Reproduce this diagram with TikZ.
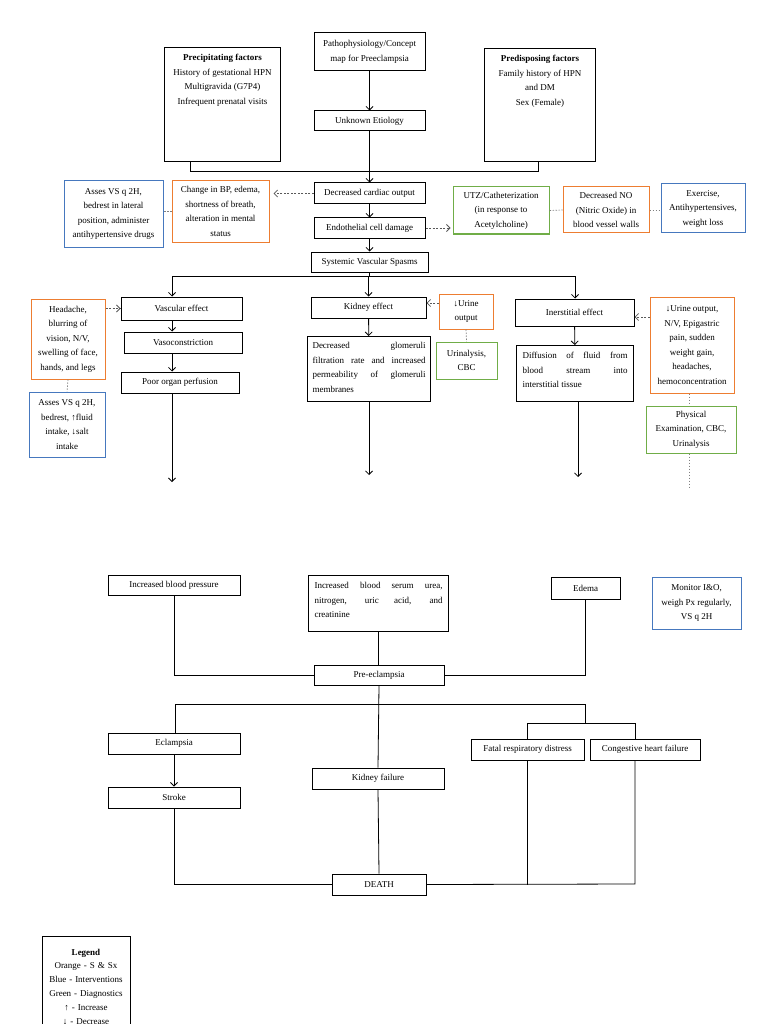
\documentclass[tikz,border=0pt]{standalone}
\usepackage{fontspec}
\setmainfont{Liberation Serif}
\usepackage{xcolor}
\usepackage{tikz}
\usetikzlibrary{arrows.meta}

\definecolor{sxorange}{RGB}{237,125,49}
\definecolor{intblue}{RGB}{70,120,190}
\definecolor{dxgreen}{RGB}{112,173,71}
\newcommand{\jl}[1]{\makebox[\linewidth][s]{#1}\\}
\newcommand{\topbox}[3]{\parbox[t][#2][t]{#1}{#3}}

\begin{document}
\begin{tikzpicture}[x=1pt,y=-1pt,
  box/.style={draw,line width=1pt,align=center,inner sep=2pt,font=\fontsize{9}{14.5}\selectfont},
  sbox/.style={box,draw=sxorange},
  ibox/.style={box,draw=intblue},
  dbox/.style={box,draw=dxgreen},
  link/.style={line width=0.8pt},
  arr/.style={link,-{Straight Barb[length=3.5pt,width=7pt]}},
  dasharr/.style={arr,gray!70!black,dash pattern=on 2pt off 1.5pt},
  dotl/.style={gray,dash pattern=on 1.5pt off 1.5pt,line width=0.7pt}]
  \useasboundingbox (0,0) rectangle (768,1024);
  \fill[white] (0,0) rectangle (768,1024);
  \clip (0,0) rectangle (768,1024);
  % causes and onset
  \node[box,minimum width=111,minimum height=38] (patho) at (369.5,52) {Pathophysiology/Concept\\map for Preeclampsia};
  \node[box,anchor=north west,inner xsep=0pt,inner ysep=7pt] (precip) at (164,47) {\topbox{116pt}{100pt}{\centering\textbf{Precipitating factors}\\History of gestational HPN\\Multigravida (G7P4)\\Infrequent prenatal visits}};
  \node[box,anchor=north west,inner xsep=0pt,inner ysep=7pt] (predisp) at (484,48) {\topbox{111pt}{99pt}{\centering\textbf{Predisposing factors}\\Family history of HPN\\and DM\\Sex (Female)}};
  \node[box,minimum width=111,minimum height=20] (unknown) at (369.5,121) {Unknown Etiology};
  \node[box,minimum width=111,minimum height=21] (cardiac) at (369.5,193.5) {Decreased cardiac output};
  \node[box,minimum width=111,minimum height=20] (endo) at (369.5,228) {Endothelial cell damage};
  \node[box,minimum width=117,minimum height=20] (spasm) at (369.5,262) {Systemic Vascular Spasms};
  \node[ibox,minimum width=99,minimum height=66] (asses1) at (113.5,214) {Asses VS q 2H,\\bedrest in lateral\\position, administer\\antihypertensive drugs};
  \node[sbox,minimum width=97,minimum height=61] (change) at (220.5,211.5) {Change in BP, edema,\\shortness of breath,\\alteration in mental\\status};
  \node[dbox,minimum width=96,minimum height=47] (utz) at (501,210.5) {UTZ/Catheterization\\(in response to\\Acetylcholine)};
  \node[sbox,minimum width=86,minimum height=46] (no) at (606,210) {Decreased NO\\(Nitric Oxide) in\\blood vessel walls};
  \node[ibox,minimum width=84,minimum height=49] (exer) at (703,208.5) {Exercise,\\Antihypertensives,\\weight loss};
  % three effects
  \node[box,minimum width=121,minimum height=23] (vasc) at (181.5,308.5) {Vascular effect};
  \node[box,minimum width=118,minimum height=21] (vasocon) at (183,342.5) {Vasoconstriction};
  \node[box,minimum width=118,minimum height=21] (poor) at (180,382.5) {Poor organ perfusion};
  \node[sbox,minimum width=74,minimum height=80] (head) at (68,339) {Headache,\\blurring of\\vision, N/V,\\swelling of face,\\hands, and legs};
  \node[ibox,minimum width=76,minimum height=65] (asses2) at (67,424.5) {Asses VS q 2H,\\bedrest, ↑fluid\\intake, ↓salt\\intake};
  \node[box,minimum width=115,minimum height=21] (kidney) at (368.5,307.5) {Kidney effect};
  \node[box,anchor=north west,inner xsep=5pt,inner ysep=6pt] (glom) at (307,336) {\topbox{113pt}{53pt}{\jl{Decreased glomeruli}\jl{filtration rate and increased}\jl{permeability of glomeruli}membranes}};
  \node[sbox,minimum width=54,minimum height=35] (urine1) at (466,311.5) {↓Urine\\output};
  \node[dbox,minimum width=61,minimum height=37] (urinal) at (466.5,360.5) {Urinalysis,\\CBC};
  \node[box,minimum width=119,minimum height=27] (inter) at (574.5,312.5) {Inerstitial effect};
  \node[box,anchor=north west,inner xsep=6pt,inner ysep=7pt] (diff) at (516,345) {\topbox{105pt}{42pt}{\jl{Diffusion of fluid from}\jl{blood stream into}interstitial tissue}};
  \node[sbox,minimum width=84,minimum height=96] (urine2) at (692,345) {↓Urine output,\\N/V, Epigastric\\pain, sudden\\weight gain,\\headaches,\\hemoconcentration};
  \node[dbox,minimum width=90,minimum height=47] (phys) at (691,429.5) {Physical\\Examination, CBC,\\Urinalysis};
  % outcome
  \node[box,minimum width=132,minimum height=20] (ibp) at (174,585) {Increased blood pressure};
  \node[box,anchor=north west,inner xsep=6pt,inner ysep=7pt] (serum) at (308,575) {\topbox{128pt}{42pt}{\jl{Increased blood serum urea,}\jl{nitrogen, uric acid, and}creatinine}};
  \node[box,minimum width=69,minimum height=22] (edema) at (585.5,588) {Edema};
  \node[ibox,minimum width=89,minimum height=52] (monitor) at (696.5,603) {Monitor I\&O,\\weigh Px regularly,\\VS q 2H};
  \node[box,minimum width=130,minimum height=20] (pre) at (379,675) {Pre-eclampsia};
  \node[box,minimum width=132,minimum height=21] (ecl) at (174,743.5) {Eclampsia};
  \node[box,minimum width=132,minimum height=21] (stroke) at (174,797.5) {Stroke};
  \node[box,minimum width=132,minimum height=21] (kfail) at (378,778.5) {Kidney failure};
  \node[box,minimum width=113,minimum height=21] (fatal) at (527.5,749.5) {Fatal respiratory distress};
  \node[box,minimum width=110,minimum height=21] (chf) at (645,749.5) {Congestive heart failure};
  \node[box,minimum width=94,minimum height=21] (death) at (379,884.5) {DEATH};
  \node[box,anchor=north,inner xsep=0pt,inner ysep=4pt,text width=88pt,minimum height=100,font=\fontsize{9}{13.8}\selectfont] (legend) at (86,936) {\textbf{Legend}\\Orange - S \& Sx\\Blue - Interventions\\Green - Diagnostics\\↑ - Increase\\↓ - Decrease};

  % junction points
  \coordinate (pc) at (190,171);
  \coordinate (pd) at (538,171);
  \coordinate (sl) at (172,276);
  \coordinate (sr) at (575,276);
  \coordinate (vend) at (172,482);
  \coordinate (kend) at (369,475);
  \coordinate (iend) at (578,477);
  \coordinate (pend) at (689,488);
  \coordinate (bl) at (175,704);
  \coordinate (br) at (585,704);
  \coordinate (fj) at (585,723);
  \coordinate (cj) at (635,723);
  \coordinate (dj) at (635,884);

  \draw[arr] (patho) -- (unknown);
  \draw[arr] (unknown) -- (cardiac);
  \draw[link] (pc |- precip.south) -- (pc) -- (pd) -- (pd |- predisp.south);
  \draw[arr] (cardiac) -- (endo);
  \draw[arr] (endo) -- (spasm);
  \draw[dasharr,shorten >=4pt] (cardiac.west) -- (change.east |- cardiac.west);
  \draw[dotl] (change.west) -- (change.west -| asses1.east);
  \draw[dasharr,shorten >=2pt] (endo.east) -- (utz.west |- endo.east);
  \draw[dotl] (utz.east) -- (no.west);
  \draw[dotl] (no.east) -- (exer.west |- no.east);

  \draw[link] (spasm.south) -- (spasm.south |- sl);
  \draw[link] (sl) -- (sr);
  \draw[arr] (sl) -- (sl |- vasc.north);
  \draw[arr] (kidney.north |- sl) -- (kidney.north);
  \draw[arr] (sr) -- (sr |- inter.north);
  \draw[arr] (vasc.south -| sl) -- (vasocon.north -| sl);
  \draw[arr] (vasocon.south -| sl) -- (poor.north -| sl);
  \draw[arr] (poor.south -| vend) -- (vend);
  \draw[dasharr] (head.east |- vasc.west) -- (vasc.west);
  \draw[dotl] (head.south) -- (asses2.north);
  \draw[arr] (kidney) -- (glom);
  \draw[arr] (glom.south) -- (kend);
  \draw[dasharr] (urine1.west |- 0,303) -- (kidney.east |- 0,303);
  \draw[dotl] (urine1.south) -- (urinal.north);
  \draw[arr] (inter) -- (diff);
  \draw[arr] (diff.south -| iend) -- (iend);
  \draw[dasharr] (urine2.west |- 0,317) -- (inter.east |- 0,317);
  \draw[dotl] (urine2.south -| pend) -- (phys.north -| pend);
  \draw[dotl] (phys.south -| pend) -- (pend);

  \draw[link] (ibp.south) |- (pre.west);
  \draw[link] (serum.south) -- (serum.south |- pre.north);
  \draw[link] (edema.south) |- (pre.east);
  \draw[link] (pre.south) -- (kfail.north);
  \draw[link] (ecl.north -| bl) -- (bl) -- (br) -- (fj);
  \draw[arr] (ecl.south) -- (stroke.north);
  \draw[link] (fatal.north) |- (cj) -- (cj |- chf.north);
  \draw[link] (stroke.south) |- (death.west);
  \draw[link] (kfail.south) -- (death.north);
  \draw[link] (death.east) -- (dj) -- (cj |- chf.south);
  \draw[link] (fatal.south) -- (fatal.south |- death.east);
\end{tikzpicture}
\end{document}
